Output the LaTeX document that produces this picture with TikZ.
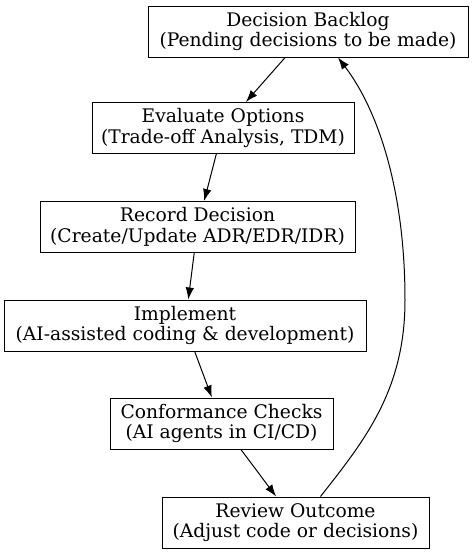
\documentclass[tikz,border=0pt]{standalone}
\usepackage{fontspec}
\setmainfont{DejaVu Serif}
\usepackage{tikz}
\usetikzlibrary{arrows.meta}
\tikzset{>={Latex[length=12pt,width=8.5pt]}}
\tikzset{stage/.style={draw=black, line width=1pt, align=center, inner sep=0pt,
	minimum height=51pt, font=\fontsize{18.7}{20.5}\selectfont}}

\begin{document}
\begin{tikzpicture}[x=1pt, y=-1pt]
	\useasboundingbox (0,0) rectangle (472,555);

	% Stages
	\node[stage, minimum width=320pt] (backlog) at (308,31.5) {Decision Backlog\\(Pending decisions to be made)};
	\node[stage, minimum width=262pt] (evaluate) at (223,128) {Evaluate Options\\(Trade-off Analysis, TDM)};
	\node[stage, minimum width=315pt] (record) at (197.5,227) {Record Decision\\(Create/Update ADR/EDR/IDR)};
	\node[stage, minimum width=362pt] (implement) at (185,325.5) {Implement\\(AI-assisted coding \& development)};
	\node[stage, minimum width=223pt] (conform) at (221.5,423.5) {Conformance Checks\\(AI agents in CI/CD)};
	\node[stage, minimum width=267pt] (review) at (295.5,522.5) {Review Outcome\\(Adjust code or decisions)};

	%% Flow
	\draw [->,line width=1.0pt,black] (backlog) -- (evaluate);
	\draw [->,line width=1.0pt,black] (evaluate) -- (record);
	\draw [->,line width=1.0pt,black] (record) -- (implement);
	\draw [->,line width=1.0pt,black] (implement) -- (conform);
	\draw [->,line width=1.0pt,black] (conform) -- (review);

	%% Feedback loop
	\draw [->,line width=1.0pt,black] ([xshift=25pt]review.north)
	.. controls (365,440) and (405,390) .. (405,300)
	.. controls (405,190) and (378,110) .. ([xshift=30pt]backlog.south);

\end{tikzpicture}
\end{document}
